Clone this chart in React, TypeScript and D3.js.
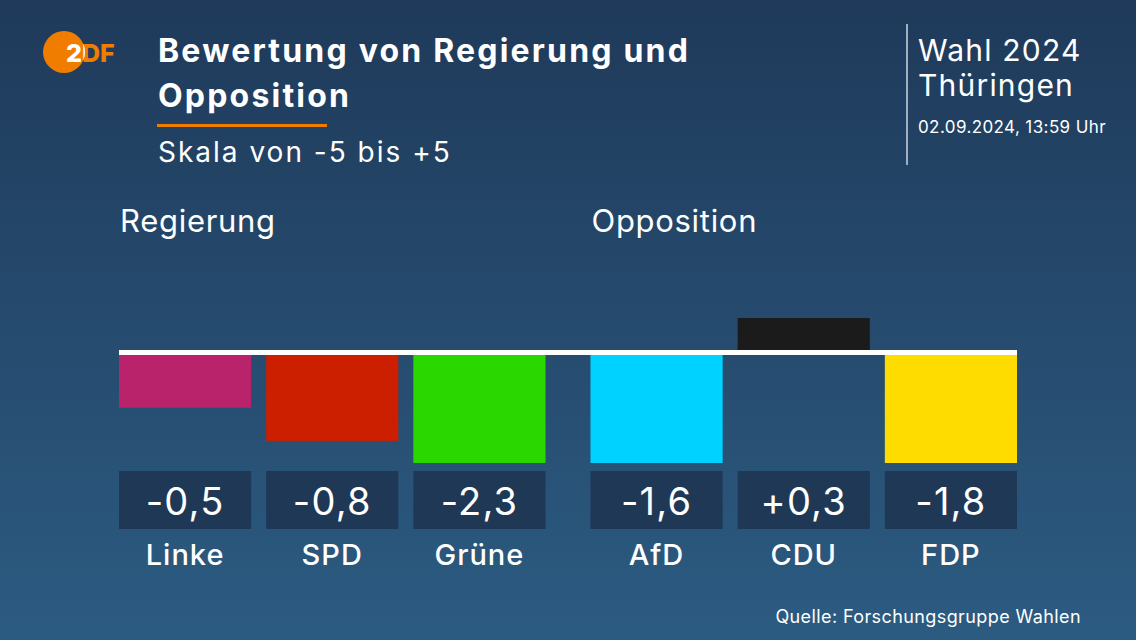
import * as d3 from 'd3';
import React, { useEffect, useRef } from 'react';

const groups = ['Regierung', 'Opposition'];
const parties = ['Linke', 'SPD', 'Grüne', 'AfD', 'CDU', 'FDP'];
const partyGroup = ['Regierung', 'Regierung', 'Regierung', 'Opposition', 'Opposition', 'Opposition'];
const ratings = [-0.5, -0.8, -2.3, -1.6, 0.3, -1.8];
const partyColors = ['#b8236b', '#cc1f00', '#2ad800', '#00d2ff', '#1b1b1b', '#ffdc00'];

const W = 1136;
const H = 640;
const FONT = 'Inter, "Noto Sans", sans-serif';

const fmt = (v: number) => (v > 0 ? '+' : v < 0 ? '-' : '') + Math.abs(v).toFixed(1).replace('.', ',');

export default function App() {
  const ref = useRef<SVGSVGElement>(null);

  useEffect(() => {
    const svg = d3.select(ref.current);
    svg.selectAll('*').remove();

    const defs = svg.append('defs');
    const grad = defs.append('linearGradient').attr('id', 'bg').attr('x1', 0).attr('y1', 0).attr('x2', 0).attr('y2', 1);
    grad.append('stop').attr('offset', '0%').attr('stop-color', '#1f3a5a');
    grad.append('stop').attr('offset', '100%').attr('stop-color', '#2c5b81');
    defs.append('clipPath').attr('id', 'logoClip')
      .append('circle').attr('cx', 64).attr('cy', 52).attr('r', 21);

    svg.append('rect').attr('width', W).attr('height', H).attr('fill', 'url(#bg)');

    // logo: orange circle, "2DF" white where it sits on the circle
    svg.append('circle').attr('cx', 64).attr('cy', 52).attr('r', 21).attr('fill', '#f07d00');
    const logo = (fill: string, clip: boolean) => {
      const t = svg.append('text')
        .attr('x', 66).attr('y', 62)
        .attr('font-family', FONT).attr('font-weight', 800).attr('font-size', 25)
        .attr('fill', fill)
        .text('2DF');
      if (clip) t.attr('clip-path', 'url(#logoClip)');
    };
    logo('#f07d00', false);
    logo('#ffffff', true);

    // header
    const title = svg.append('text').attr('font-family', FONT).attr('font-weight', 700)
      .attr('font-size', 32).attr('letter-spacing', 2.2).attr('fill', '#fff');
    title.append('tspan').attr('x', 158).attr('y', 62).text('Bewertung von Regierung und');
    title.append('tspan').attr('x', 158).attr('y', 107).text('Opposition');
    svg.append('rect').attr('x', 157).attr('y', 124).attr('width', 170).attr('height', 3).attr('fill', '#f07d00');
    svg.append('text').attr('x', 158).attr('y', 162).attr('font-family', FONT)
      .attr('font-size', 28).attr('letter-spacing', 2).attr('fill', '#fff').text('Skala von -5 bis +5');

    svg.append('rect').attr('x', 906).attr('y', 24).attr('width', 2).attr('height', 141).attr('fill', '#9fb0c2');
    const wahl = svg.append('text').attr('font-family', FONT).attr('font-size', 30)
      .attr('letter-spacing', 1.2).attr('fill', '#fff');
    wahl.append('tspan').attr('x', 918).attr('y', 61).text('Wahl 2024');
    wahl.append('tspan').attr('x', 918).attr('y', 96).text('Thüringen');
    svg.append('text').attr('x', 918).attr('y', 133).attr('font-family', FONT)
      .attr('font-size', 17).attr('letter-spacing', 0.4).attr('fill', '#fff').text('02.09.2024, 13:59 Uhr');

    svg.append('text').attr('x', 1081).attr('y', 623).attr('text-anchor', 'end')
      .attr('font-family', FONT).attr('font-size', 18).attr('letter-spacing', 0.4).attr('fill', '#fff')
      .text('Quelle: Forschungsgruppe Wahlen');

    // scales
    const xGroup = d3.scaleBand<string>().domain(groups).range([119, 1017]).paddingInner(0.0954);
    const inner = d3.scaleBand<number>().domain([0, 1, 2]).range([0, xGroup.bandwidth()]).paddingInner(0.102);
    const idxInGroup = parties.map((_, i) => partyGroup.slice(0, i).filter((g) => g === partyGroup[i]).length);
    const xPos = (i: number) => (xGroup(partyGroup[i]) as number) + (inner(idxInGroup[i]) as number);
    const bw = inner.bandwidth();

    const base = 352.5;
    const y = d3.scaleLinear().domain([-1, 0, 1]).range([base + 110.5, base, base - 115]).clamp(true);

    svg.selectAll('.grp').data(groups).join('text')
      .attr('class', 'grp')
      .attr('x', (g) => (xGroup(g) as number) + 1)
      .attr('y', 232)
      .attr('font-family', FONT).attr('font-size', 31).attr('letter-spacing', 0.7).attr('fill', '#fff')
      .text((g) => g);

    svg.selectAll('.bar').data(ratings).join('rect')
      .attr('class', 'bar')
      .attr('x', (_, i) => xPos(i))
      .attr('width', bw)
      .attr('y', (d) => (d >= 0 ? y(d) : y(0)))
      .attr('height', (d) => Math.abs(y(d) - y(0)))
      .attr('fill', (_, i) => partyColors[i]);

    svg.append('rect').attr('x', 119).attr('y', 350).attr('width', 898).attr('height', 5).attr('fill', '#fff');

    svg.selectAll('.box').data(ratings).join('rect')
      .attr('class', 'box')
      .attr('x', (_, i) => xPos(i))
      .attr('y', 471).attr('width', bw).attr('height', 58)
      .attr('fill', '#1e3856');

    svg.selectAll('.val').data(ratings).join('text')
      .attr('class', 'val')
      .attr('x', (_, i) => xPos(i) + bw / 2)
      .attr('y', 515)
      .attr('text-anchor', 'middle')
      .attr('font-family', FONT).attr('font-size', 38).attr('letter-spacing', 1.2).attr('fill', '#fff')
      .text((d) => fmt(d));

    svg.selectAll('.name').data(parties).join('text')
      .attr('class', 'name')
      .attr('x', (_, i) => xPos(i) + bw / 2)
      .attr('y', 565)
      .attr('text-anchor', 'middle')
      .attr('font-family', FONT).attr('font-weight', 500).attr('font-size', 29).attr('letter-spacing', 1)
      .attr('fill', '#fff')
      .text((d) => d);
  }, []);

  return (
    <svg
      ref={ref}
      width={W}
      height={H}
      viewBox={`0 0 ${W} ${H}`}
      style={{ position: 'absolute', left: 0, top: 0, display: 'block' }}
    />
  );
}
